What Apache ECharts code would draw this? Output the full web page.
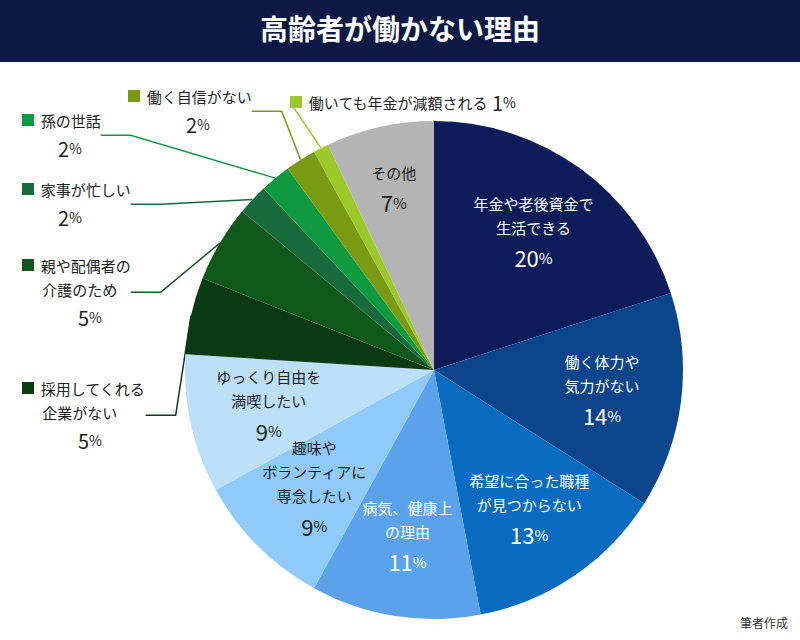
<!DOCTYPE html>
<html><head><meta charset="utf-8">
<script src="https://cdn.jsdelivr.net/npm/echarts@6/dist/echarts.min.js"></script>
<style>html,body{margin:0;padding:0;background:#fff}#c{width:800px;height:640px}</style>
</head><body><div id="c"></div>
<script>
const names = ["年金や老後資金で\n生活できる", "働く体力や\n気力がない", "希望に合った職種\nが見つからない", "病気、健康上\nの理由",
  "趣味や\nボランティアに\n専念したい", "ゆっくり自由を\n満喫したい", "採用してくれる\n企業がない", "親や配偶者の\n介護のため",
  "家事が忙しい", "孫の世話", "働く自信がない", "働いても年金が減額される", "その他"];
const values = [20, 14, 13, 11, 9, 9, 5, 5, 2, 2, 2, 1, 7];
const colors = ["#0c1d5a", "#0b468c", "#0a6cc0", "#5aa2ea", "#8fcaf8", "#bcdff8", "#0a3b12", "#10581c",
  "#176a3a", "#0f9a42", "#7a9a14", "#9cc92a", "#b4b4b4"];
// outside label anchors (text positions only)
const outside = { 6: [22, 376], 7: [22, 253], 8: [22, 177], 9: [22, 108], 10: [128, 84], 11: [290, 86] };
const pctIndent = { 6: 56, 7: 56, 8: 36, 9: 36, 10: 58 };

const CX = 434, CY = 370, R = 249;
const total = values.reduce((a, b) => a + b, 0);
const mids = [];
values.reduce((cum, v) => { mids.push(cum + v / 2); return cum + v; }, 0);

const chart = echarts.init(document.getElementById("c"), null, { renderer: "svg" });
const FONT = "Noto Sans CJK JP";

const data = values.map((v, i) => {
  const d = { name: names[i], value: v, itemStyle: { color: colors[i] } };
  if (outside[i]) {
    const tail = i === 11;
    const n = names[i].replace("\n", "\n      ");
    d.label = {
      position: "outside",
      color: "#222",
      overflow: "none",
      width: 300,
      formatter: () => tail
        ? "{sq" + i + "|}  {n|" + names[i] + "} {v|" + v + "}{p|%}"
        : "{sq" + i + "|}  {n|" + n + "}\n{v|" + v + "}{p|%}",
      rich: {
        ["sq" + i]: { width: 12, height: 12, backgroundColor: colors[i] },
        n: { fontSize: 15, color: "#222", lineHeight: 24, fontFamily: FONT },
        v: { fontSize: 20, color: "#222", fontFamily: FONT, lineHeight: 32, padding: [0, 0, 0, tail ? 0 : pctIndent[i]] },
        p: { fontSize: 14, color: "#222", fontFamily: FONT }
      }
    };
    d.labelLine = { show: true, lineStyle: { color: colors[i], width: 1.5 } };
  } else {
    const dark = i === 5 || i === 12 || i === 4;
    const c = dark ? "#222" : "#fff";
    d.label = {
      position: "inside",
      align: "center",
      color: c,
      formatter: () => "{n|" + names[i] + "}\n{v|" + v + "}{p|%}",
      rich: {
        n: { fontSize: 15, color: c, lineHeight: 24, fontFamily: FONT, align: "center" },
        v: { fontSize: 22, color: c, lineHeight: 36, fontFamily: FONT, align: "center" },
        p: { fontSize: 15, color: c, fontFamily: FONT }
      }
    };
    d.labelLine = { show: false };
  }
  return d;
});

chart.setOption({
  animation: false,
  graphic: [
    { type: "rect", shape: { x: 0, y: 0, width: 800, height: 62 }, style: { fill: "#0d1a45" } },
    { type: "text", left: "center", top: 14, style: { text: "高齢者が働かない理由", fill: "#fff", font: "bold 28px 'Noto Sans CJK JP'" } },
    { type: "text", right: 12, bottom: 12, style: { text: "筆者作成", fill: "#333", font: "12px 'Noto Sans CJK JP'" } }
  ],
  series: [{
    type: "pie",
    center: [CX, CY],
    radius: [0, R],
    startAngle: 90,
    clockwise: true,
    itemStyle: { borderWidth: 0 },
    labelLayout: (p) => {
      const i = p.dataIndex;
      const o = outside[i];
      if (o) return { x: o[0], y: o[1], align: "left", verticalAlign: "top" };
      const a = (90 - 360 * mids[i] / total) * Math.PI / 180;
      const k = i === 12 ? 0.74 : 0.68;
      return { x: CX + R * k * Math.cos(a), y: CY - R * k * Math.sin(a), align: "center", verticalAlign: "middle" };
    },
    data: data
  }]
});
</script></body></html>
